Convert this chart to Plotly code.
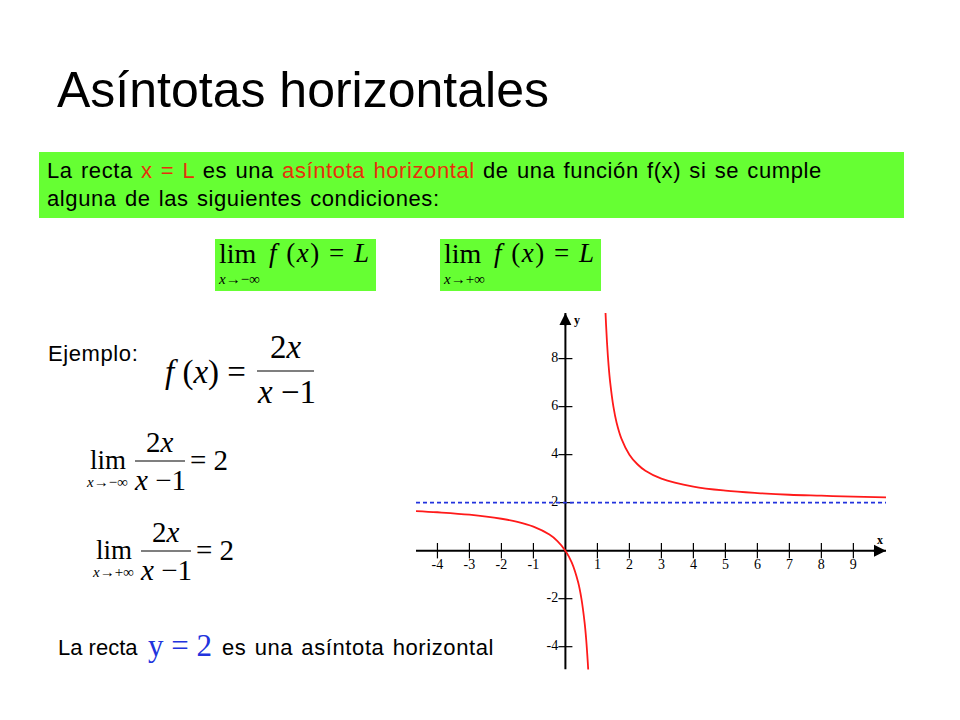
import plotly.graph_objects as go

W, H = 960, 720
OFF = 8  # the page body has an 8px margin, so every pixel position is moved back by it

# curve f(x) = 2x/(x-1)
left_x = [-4.67, -4, -3, -2, -1.5, -1, -0.5, -0.25, 0, 0.2, 0.4, 0.5, 0.6, 0.65, 0.7, 0.72]
left_y = [1.65, 1.6, 1.5, 1.33, 1.2, 1.0, 0.67, 0.4, 0, -0.5, -1.33, -2, -3, -3.71, -4.67, -5.14]
right_x = [1.2, 1.22, 1.25, 1.3, 1.35, 1.4, 1.5, 1.6, 1.75, 2, 2.25, 2.5, 3, 4, 5, 6, 7, 8, 9, 10.02]
right_y = [12, 11.09, 10, 8.67, 7.71, 7, 6, 5.33, 4.67, 4, 3.6, 3.33, 3, 2.67, 2.5, 2.4, 2.33, 2.29, 2.25, 2.22]

asymptote_y = 2
x_range = [-4.67, 10.02]
y_range = [-4.95, 9.9]

x_ticks = [-4, -3, -2, -1, 1, 2, 3, 4, 5, 6, 7, 8, 9]
x_tick_text = ["-4", "-3", "-2", "-1", "1", "2", "3", "4", "5", "6", "7", "8", "9"]
y_ticks = [8, 6, 4, 2, -2, -4]
y_tick_text = ["8", "6", "4", "2", "-2", "-4"]

GREEN = "#66ff33"
RED = "#ff1a1a"
BLUE = "#2233dd"
SERIF = "Liberation Serif"
SANS = "Liberation Sans"
SPACED = '<span style="letter-spacing:0.6px;word-spacing:1.5px">%s</span>'

fig = go.Figure()

# axes through the origin
fig.add_trace(go.Scatter(x=x_range, y=[0, 0], mode="lines",
                         line=dict(color="black", width=2), hoverinfo="skip"))
fig.add_trace(go.Scatter(x=[0, 0], y=y_range, mode="lines",
                         line=dict(color="black", width=2), hoverinfo="skip"))

# ticks + labels
fig.add_trace(go.Scatter(x=x_ticks, y=[0] * len(x_ticks), mode="markers+text",
                         marker=dict(symbol="line-ns-open", size=11, color="black",
                                     line=dict(color="black", width=1.2)),
                         text=x_tick_text, textposition="bottom center",
                         textfont=dict(family=SERIF, size=14, color="black"), cliponaxis=False))
fig.add_trace(go.Scatter(x=[0] * len(y_ticks), y=y_ticks, mode="markers+text",
                         marker=dict(symbol="line-ew-open", size=10, color="black",
                                     line=dict(color="black", width=1.2)),
                         text=y_tick_text, textposition="middle left",
                         textfont=dict(family=SERIF, size=14, color="black"), cliponaxis=False))

# asymptote
fig.add_trace(go.Scatter(x=x_range, y=[asymptote_y, asymptote_y], mode="lines",
                         line=dict(color=BLUE, width=1.6, dash="4px,3px")))

# the two branches
for bx, by in [(left_x, left_y), (right_x, right_y)]:
    fig.add_trace(go.Scatter(x=bx, y=by, mode="lines", line_shape="spline",
                             line=dict(color=RED, width=1.8)))

# arrow heads and axis names
fig.add_annotation(x=x_range[1], y=0, xref="x", yref="y", ax=-14, ay=0, showarrow=True,
                   arrowhead=2, arrowsize=1.2, arrowwidth=2, arrowcolor="black", text="")
fig.add_annotation(x=0, y=y_range[1], xref="x", yref="y", ax=0, ay=14, showarrow=True,
                   arrowhead=2, arrowsize=1.2, arrowwidth=2, arrowcolor="black", text="")
fig.add_annotation(x=9.83, y=0.45, xref="x", yref="y", text="<b>x</b>", showarrow=False,
                   font=dict(family=SERIF, size=12, color="black"))
fig.add_annotation(x=0.36, y=9.6, xref="x", yref="y", text="<b>y</b>", showarrow=False,
                   font=dict(family=SERIF, size=12, color="black"))


def note(text, px, py, size, family=SANS, color="black", xanchor="left"):
    fig.add_annotation(x=(px - OFF) / W, y=1 - (py - OFF) / H, xref="paper", yref="paper",
                       text=text, showarrow=False, xanchor=xanchor, yanchor="middle",
                       font=dict(family=family, size=size, color=color))


def box(x0, y0, x1, y1):
    fig.add_shape(type="rect", xref="paper", yref="paper", x0=(x0 - OFF) / W, x1=(x1 - OFF) / W,
                  y0=1 - (y1 - OFF) / H, y1=1 - (y0 - OFF) / H,
                  fillcolor=GREEN, line_width=0, layer="below")


def hline(x0, x1, y):
    fig.add_shape(type="line", xref="paper", yref="paper", x0=(x0 - OFF) / W, x1=(x1 - OFF) / W,
                  y0=1 - (y - OFF) / H, y1=1 - (y - OFF) / H, line=dict(color="black", width=1.2))


# title
note("Asíntotas horizontales", 55, 90, 50)

# definition box
box(39, 152, 904, 218)
note(SPACED % ('La recta <span style="color:#e8300c">x = L</span> es una '
               '<span style="color:#e8300c">asíntota horizontal</span> de una función f(x) si se cumple'),
     45, 171, 22)
note(SPACED % "alguna de las siguientes condiciones:", 45, 199, 22)

# the two limit conditions
for bx0, sub in [(215, "<i>x</i>→−∞"), (440, "<i>x</i>→+∞")]:
    box(bx0, 239, bx0 + 161, 291)
    note("lim", bx0 + 2, 253, 28, SERIF)
    note(sub, bx0 + 1, 279, 15, SERIF)
    note('<span style="letter-spacing:1.5px"><i>f</i> (<i>x</i>) = <i>L</i></span>',
         bx0 + 52, 253, 27, SERIF)

# example
note(SPACED % "Ejemplo:", 46, 353, 22)
note("<i>f</i> (<i>x</i>) =", 163, 372, 33, SERIF)
hline(257, 314, 371)
note("2<i>x</i>", 286, 347, 33, SERIF, xanchor="center")
note("<i>x</i> −1", 286, 392, 33, SERIF, xanchor="center")

# limits of the example
for lx, sub, ly in [(88, "<i>x</i>→−∞", 461), (94, "<i>x</i>→+∞", 551)]:
    note("lim", lx, ly - 1, 27, SERIF)
    note(sub, lx - 4, ly + 21, 15, SERIF)
    fx0 = lx + 47
    hline(fx0, fx0 + 50, ly)
    note("2<i>x</i>", fx0 + 25, ly - 19, 29, SERIF, xanchor="center")
    note("<i>x</i> −1", fx0 + 25, ly + 19, 29, SERIF, xanchor="center")
    note("= 2", fx0 + 53, ly - 1, 29, SERIF)

# conclusion
note("La recta", 56, 647, 22)
note("y = 2", 146, 645, 31, SERIF, color=BLUE)
note(SPACED % "es una asíntota horizontal", 220, 647, 22)

fig.update_layout(
    width=W, height=H, margin=dict(l=0, r=0, t=0, b=0),
    paper_bgcolor="white", plot_bgcolor="white", showlegend=False,
    xaxis=dict(domain=[(416 - OFF) / W, (886 - OFF) / W], range=x_range, visible=False, fixedrange=True),
    yaxis=dict(domain=[1 - (669.5 - OFF) / H, 1 - (313 - OFF) / H], range=y_range,
               visible=False, fixedrange=True),
)

fig.write_html("out.html")
